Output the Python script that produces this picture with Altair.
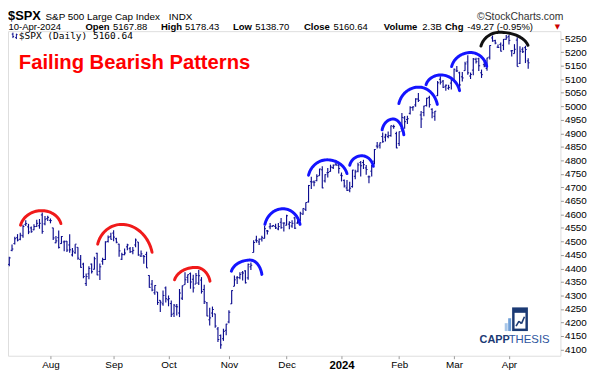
import altair as alt
import pandas as pd
import numpy as np

# ---------------- data ----------------
trading_days = {
    "2023-07": [11, 12, 13, 14, 17, 18, 19, 20, 21, 24, 25, 26, 27, 28, 31],
    "2023-08": [1, 2, 3, 4, 7, 8, 9, 10, 11, 14, 15, 16, 17, 18, 21, 22, 23, 24, 25, 28, 29, 30, 31],
    "2023-09": [1, 5, 6, 7, 8, 11, 12, 13, 14, 15, 18, 19, 20, 21, 22, 25, 26, 27, 28, 29],
    "2023-10": [2, 3, 4, 5, 6, 9, 10, 11, 12, 13, 16, 17, 18, 19, 20, 23, 24, 25, 26, 27, 30, 31],
    "2023-11": [1, 2, 3, 6, 7, 8, 9, 10, 13, 14, 15, 16, 17, 20, 21, 22, 24, 27, 28, 29, 30],
    "2023-12": [1, 4, 5, 6, 7, 8, 11, 12, 13, 14, 15, 18, 19, 20, 21, 22, 26, 27, 28, 29],
    "2024-01": [2, 3, 4, 5, 8, 9, 10, 11, 12, 16, 17, 18, 19, 22, 23, 24, 25, 26, 29, 30, 31],
    "2024-02": [1, 2, 5, 6, 7, 8, 9, 12, 13, 14, 15, 16, 20, 21, 22, 23, 26, 27, 28, 29],
    "2024-03": [1, 4, 5, 6, 7, 8, 11, 12, 13, 14, 15, 18, 19, 20, 21, 22, 25, 26, 27, 28],
    "2024-04": [1, 2, 3, 4, 5, 8, 9, 10],
}
month_labels = ["Aug", "Sep", "Oct", "Nov", "Dec", "2024", "Feb", "Mar", "Apr"]
price_ticks = list(range(4100, 5251, 50))

opens = [
    4415, 4467, 4492, 4514, 4508, 4521, 4563, 4554, 4550, 4543, 4555, 4558, 4598, 4565, 4585,
    4578, 4550, 4495, 4514, 4492, 4498, 4501, 4487, 4450, 4458, 4478, 4433, 4416, 4344, 4380, 4416, 4397, 4456, 4389, 4427, 4433, 4500, 4518,
    4531, 4510, 4490, 4434, 4451, 4480, 4473, 4462, 4487, 4498, 4446, 4446, 4452, 4374, 4342, 4310, 4313, 4282, 4269, 4328,
    4284, 4270, 4234, 4259, 4235, 4290, 4340, 4367, 4381, 4360, 4342, 4346, 4357, 4322, 4273, 4210, 4235, 4232, 4176, 4152, 4140, 4171,
    4202, 4269, 4334, 4365, 4366, 4384, 4391, 4365, 4406, 4459, 4505, 4498, 4509, 4511, 4539, 4554, 4555, 4555, 4546, 4571, 4568,
    4560, 4564, 4557, 4587, 4568, 4576, 4601, 4618, 4646, 4721, 4720, 4725, 4743, 4765, 4724, 4754, 4759, 4773, 4786, 4782,
    4745, 4726, 4698, 4690, 4703, 4741, 4760, 4792, 4792, 4772, 4739, 4760, 4797, 4853, 4856, 4888, 4886, 4888, 4892, 4925, 4899,
    4862, 4917, 4957, 4951, 4974, 4996, 5005, 5027, 4968, 4977, 5003, 5032, 4989, 4963, 5039, 5100, 5093, 5074, 5067, 5086,
    5098, 5131, 5124, 5109, 5132, 5164, 5112, 5134, 5174, 5176, 5124, 5154, 5140, 5182, 5253, 5243, 5219, 5229, 5226, 5248,
    5258, 5205, 5195, 5245, 5159, 5211, 5217, 5168,
]
highs = [
    4443, 4489, 4517, 4527, 4532, 4562, 4578, 4565, 4555, 4564, 4580, 4583, 4607, 4594, 4595,
    4585, 4551, 4520, 4540, 4520, 4503, 4502, 4527, 4476, 4490, 4478, 4450, 4421, 4381, 4408, 4418, 4443, 4458, 4418, 4440, 4501, 4522, 4532,
    4541, 4514, 4491, 4458, 4474, 4491, 4479, 4479, 4511, 4498, 4466, 4450, 4462, 4375, 4357, 4338, 4313, 4282, 4318, 4333,
    4300, 4281, 4268, 4268, 4324, 4337, 4386, 4378, 4385, 4377, 4383, 4394, 4368, 4340, 4276, 4255, 4259, 4232, 4183, 4156, 4177, 4195,
    4245, 4319, 4374, 4372, 4386, 4391, 4393, 4418, 4422, 4504, 4521, 4511, 4521, 4557, 4542, 4568, 4561, 4565, 4568, 4587, 4570,
    4599, 4575, 4578, 4591, 4590, 4610, 4623, 4644, 4709, 4739, 4725, 4749, 4769, 4778, 4749, 4772, 4784, 4785, 4793, 4789,
    4755, 4729, 4727, 4721, 4765, 4765, 4791, 4798, 4802, 4783, 4744, 4783, 4842, 4868, 4866, 4903, 4898, 4907, 4929, 4932, 4906,
    4907, 4975, 4964, 4965, 5000, 5000, 5030, 5049, 4983, 5002, 5032, 5039, 4993, 4983, 5094, 5111, 5097, 5081, 5080, 5104,
    5140, 5149, 5128, 5127, 5165, 5189, 5125, 5179, 5180, 5180, 5136, 5175, 5180, 5226, 5262, 5246, 5229, 5236, 5249, 5264,
    5264, 5208, 5230, 5256, 5222, 5219, 5224, 5178,
]
lows = [
    4408, 4464, 4489, 4500, 4504, 4514, 4557, 4527, 4532, 4541, 4553, 4547, 4528, 4560, 4576,
    4567, 4505, 4493, 4474, 4491, 4464, 4461, 4458, 4444, 4454, 4432, 4403, 4364, 4335, 4360, 4381, 4396, 4375, 4357, 4414, 4431, 4496, 4507,
    4501, 4493, 4443, 4431, 4449, 4467, 4457, 4453, 4478, 4447, 4442, 4417, 4402, 4329, 4316, 4303, 4265, 4239, 4262, 4274,
    4260, 4220, 4220, 4226, 4220, 4283, 4340, 4346, 4325, 4311, 4342, 4339, 4307, 4268, 4223, 4189, 4220, 4181, 4128, 4103, 4132, 4153,
    4197, 4268, 4334, 4342, 4360, 4355, 4344, 4358, 4394, 4459, 4495, 4487, 4500, 4511, 4526, 4545, 4554, 4546, 4541, 4547, 4537,
    4559, 4545, 4551, 4546, 4565, 4575, 4599, 4613, 4644, 4694, 4704, 4723, 4743, 4697, 4718, 4737, 4758, 4768, 4780, 4751,
    4722, 4700, 4687, 4682, 4699, 4730, 4756, 4740, 4768, 4747, 4715, 4740, 4785, 4844, 4844, 4865, 4870, 4882, 4887, 4917, 4845,
    4853, 4907, 4917, 4935, 4970, 4984, 4998, 5016, 4920, 4963, 4999, 4996, 4956, 4947, 5038, 5081, 5068, 5058, 5061, 5062,
    5094, 5127, 5057, 5092, 5132, 5117, 5101, 5115, 5158, 5131, 5105, 5145, 5132, 5173, 5239, 5230, 5216, 5203, 5208, 5246,
    5229, 5184, 5195, 5147, 5157, 5197, 5160, 5139,
]
closes = [
    4439, 4472, 4510, 4505, 4523, 4555, 4566, 4535, 4536, 4555, 4567, 4567, 4537, 4582, 4589,
    4577, 4513, 4502, 4478, 4518, 4499, 4468, 4469, 4464, 4490, 4438, 4404, 4370, 4370, 4400, 4388, 4436, 4376, 4406, 4433, 4498, 4515, 4508,
    4516, 4497, 4465, 4451, 4457, 4487, 4462, 4467, 4505, 4450, 4454, 4444, 4402, 4330, 4320, 4337, 4274, 4275, 4300, 4288,
    4288, 4229, 4264, 4258, 4309, 4336, 4358, 4377, 4350, 4328, 4374, 4373, 4315, 4278, 4224, 4217, 4248, 4187, 4137, 4117, 4167, 4194,
    4238, 4318, 4358, 4366, 4378, 4383, 4347, 4415, 4412, 4496, 4503, 4508, 4514, 4547, 4538, 4557, 4559, 4550, 4555, 4551, 4568,
    4595, 4570, 4567, 4549, 4586, 4604, 4622, 4644, 4707, 4720, 4719, 4741, 4768, 4698, 4747, 4755, 4775, 4782, 4783, 4770,
    4743, 4705, 4689, 4697, 4764, 4757, 4783, 4780, 4784, 4766, 4739, 4781, 4840, 4850, 4865, 4869, 4894, 4891, 4928, 4925, 4846,
    4906, 4959, 4943, 4954, 4995, 4998, 5027, 5022, 4953, 5001, 5030, 5006, 4976, 4982, 5087, 5089, 5070, 5078, 5070, 5096,
    5137, 5131, 5079, 5105, 5157, 5124, 5118, 5175, 5165, 5150, 5117, 5149, 5179, 5225, 5242, 5234, 5218, 5204, 5248, 5254,
    5244, 5206, 5211, 5147, 5204, 5202, 5210, 5161,
]

# hand-drawn pattern arcs (bar index / price of left end, top, right end)
arc_kind = ["bear", "bear", "bear", "bull", "bull", "bull", "bull", "bull", "bull", "bull", "bull", "top"]
arc_x0 = [4.1, 32.2, 60.2, 80.9, 93.1, 109.0, 124.0, 135.8, 141.9, 151.8, 161.1, 171.8]
arc_xm = [11.8, 40.9, 67.9, 87.7, 99.7, 115.8, 128.4, 139.8, 149.1, 157.2, 168.0, 178.7]
arc_x1 = [18.8, 52.0, 73.1, 92.0, 105.9, 123.0, 132.6, 143.7, 155.9, 164.0, 173.9, 188.9]
arc_y0 = [4560, 4490, 4358, 4390, 4563, 4745, 4782, 4913, 5010, 5080, 5147, 5223]
arc_ym = [4614, 4563, 4404, 4431, 4621, 4802, 4817, 4953, 5071, 5116, 5199, 5274]
arc_y1 = [4566, 4460, 4353, 4378, 4563, 4751, 4778, 4895, 5007, 5058, 5148, 5226]

# ---------------- frames ----------------
dates = [f"{m}-{d:02d}" for m, ds in trading_days.items() for d in ds]
df = pd.DataFrame({"i": range(len(dates)), "date": dates, "open": opens,
                   "high": highs, "low": lows, "close": closes})

tick_idx = []
pos = 0
for m, ds in trading_days.items():
    tick_idx.append(pos)
    pos += len(ds)
tick_idx = tick_idx[1:]
jan_idx = tick_idx[month_labels.index("2024")]

th_max = np.radians(76)
rows = []
for k in range(len(arc_kind)):
    for j, th in enumerate(np.linspace(-th_max, th_max, 41)):
        if th < 0:
            w, h = arc_xm[k] - arc_x0[k], arc_ym[k] - arc_y0[k]
        else:
            w, h = arc_x1[k] - arc_xm[k], arc_ym[k] - arc_y1[k]
        rows.append({"arc": k, "kind": arc_kind[k], "o": j,
                     "x": arc_xm[k] + w * np.sin(th) / np.sin(th_max),
                     "y": arc_ym[k] - h * (1 - np.cos(th)) / (1 - np.cos(th_max))})
arcs = pd.DataFrame(rows)

# ---------------- chart ----------------
BAR = "#0c0c8e"
FONT = "Liberation Sans"
W, H = 560, 329

xscale = alt.Scale(domain=[-0.467, 200.75], nice=False, zero=False)
yscale = alt.Scale(domain=[4077, 5278.1], nice=False, zero=False)

labels_js = "[" + ",".join(f"'{l}'" for l in month_labels) + "]"
ticks_js = "[" + ",".join(str(t) for t in tick_idx) + "]"
xaxis = alt.Axis(values=tick_idx, labelExpr=f"{labels_js}[indexof({ticks_js}, datum.value)]",
                 grid=False, domain=False, tickSize=3, tickColor="#999999",
                 labelFont=FONT, labelColor="#000000", labelPadding=1, labelOverlap=False,
                 labelFontSize={"condition": {"test": f"datum.value == {jan_idx}", "value": 11.5}, "value": 10},
                 labelFontWeight={"condition": {"test": f"datum.value == {jan_idx}", "value": "bold"}, "value": "normal"},
                 title=None)
yaxis = alt.Axis(orient="right", values=price_ticks, format="d", grid=False, domain=False,
                 tickSize=3, tickColor="#999999", labelFont=FONT, labelFontSize=10,
                 labelColor="#000000", labelPadding=1, labelOverlap=False, labelBound=False,
                 labelSeparation=0, title=None)

base = alt.Chart(df)
hl = base.mark_rule(color=BAR, strokeWidth=1.15).encode(
    x=alt.X("i:Q", scale=xscale, axis=xaxis),
    y=alt.Y("low:Q", scale=yscale, axis=yaxis),
    y2="high:Q")
op = base.transform_calculate(xl="datum.i - 0.5").mark_rule(color=BAR, strokeWidth=1).encode(
    x=alt.X("xl:Q", scale=xscale, axis=xaxis), x2="i:Q", y=alt.Y("open:Q", scale=yscale, axis=yaxis))
cl = base.transform_calculate(xr="datum.i + 0.5").mark_rule(color=BAR, strokeWidth=1).encode(
    x=alt.X("i:Q", scale=xscale, axis=xaxis), x2="xr:Q", y=alt.Y("close:Q", scale=yscale, axis=yaxis))

arc_layer = alt.Chart(arcs).mark_line(strokeWidth=3, strokeCap="round", strokeJoin="round").encode(
    x=alt.X("x:Q", scale=xscale, axis=xaxis),
    y=alt.Y("y:Q", scale=yscale, axis=yaxis),
    detail="arc:N",
    order="o:Q",
    color=alt.Color("kind:N", scale=alt.Scale(domain=["bear", "bull", "top"],
                                              range=["#f01a1a", "#1414ff", "#111111"]), legend=None))


def txt(s, x, y, size=10, weight="normal", color="#000000", align="left", font=FONT):
    return alt.Chart(pd.DataFrame({"t": [s]})).mark_text(
        x=x, y=y, align=align, baseline="alphabetic", fontSize=size, fontWeight=weight,
        color=color, font=font).encode(text="t:N")


def rule(x, x2, y, y2, color, w=1.0):
    return alt.Chart(pd.DataFrame({"a": [0]})).mark_rule(color=color, strokeWidth=w).encode(
        x=alt.value(x), x2=alt.value(x2), y=alt.value(y), y2=alt.value(y2))


def box(x, x2, y, y2, color):
    return alt.Chart(pd.DataFrame({"a": [0]})).mark_rect(color=color).encode(
        x=alt.value(x), x2=alt.value(x2), y=alt.value(y), y2=alt.value(y2))


L1 = -11.5   # baseline of first header line (relative to plot top)
L2 = -1.6    # baseline of second header line
header = [
    txt("$SPX", 0, L1, size=13, weight="bold"),
    txt("S&P 500 Large Cap Index", 38, L1, size=10),
    txt("INDX", 163, L1, size=10),
    txt("\u00a9StockCharts.com", 563, L1, size=10.5, color="#333333", align="right"),
    txt("10-Apr-2024", 0.5, L2, size=9.6),
    txt("Open", 78.5, L2, size=9.6, weight="bold"),
    txt("5167.88", 106.5, L2, size=9.6),
    txt("High", 155, L2, size=9.6, weight="bold"),
    txt("5178.43", 179.5, L2, size=9.6),
    txt("Low", 228, L2, size=9.6, weight="bold"),
    txt("5138.70", 250.5, L2, size=9.6),
    txt("Close", 300, L2, size=9.6, weight="bold"),
    txt("5160.64", 330, L2, size=9.6),
    txt("Volume", 381, L2, size=9.6, weight="bold"),
    txt("2.3B", 420, L2, size=9.6),
    txt("Chg", 443, L2, size=9.6, weight="bold"),
    txt("-49.27 (-0.95%)", 465.5, L2, size=9.6),
    txt("\u25bc", 557, L2 - 0.5, size=7, color="#cc0000", align="center", font="DejaVu Sans"),
    # in-plot legend
    rule(5, 5, 1.5, 7, BAR), rule(3.8, 5, 3, 3, BAR), rule(5, 6.2, 5.5, 5.5, BAR),
    rule(8.5, 8.5, 2.5, 8, BAR), rule(7.3, 8.5, 6.5, 6.5, BAR), rule(8.5, 9.7, 3.5, 3.5, BAR),
    txt("$SPX (Daily) 5160.64", 11, 8, size=9.6, font="DejaVu Sans Mono"),
    txt("Failing Bearish Patterns", 11, 38.5, size=20.5, weight="bold", color="#ff0000"),
    # CAPP THESIS logo
    box(503.5, 506.5, 296, 304, "#a8c6e8"),
    box(507, 510, 291, 304, "#6f9fd8"),
    box(511, 527, 280, 304, "#1b3a74"),
    box(513.5, 524.5, 285.5, 301.5, "#ffffff"),
    rule(515, 518, 299, 294, "#1b3a74", 1.6),
    rule(518, 520.5, 294, 296.5, "#1b3a74", 1.6),
    rule(520.5, 523.5, 296.5, 289.5, "#1b3a74", 1.6),
    txt("CAPP", 478, 316.5, size=11, weight="bold", color="#1b3a74"),
    txt("THESIS", 507.5, 316.5, size=11.5, color="#2e559e"),
]

chart = alt.layer(hl, op, cl, arc_layer, *header).properties(
    width=W, height=H,
    autosize=alt.AutoSizeParams(type="none"),
    padding={"left": 0, "top": 21, "right": 34, "bottom": 13},
    background="#ffffff",
).configure_view(stroke="#a0a0a0", strokeWidth=1).configure_axis(
    labelOverlap=False).configure(font=FONT)

chart.save("out.html", embed_options={"renderer": "svg", "actions": False})
